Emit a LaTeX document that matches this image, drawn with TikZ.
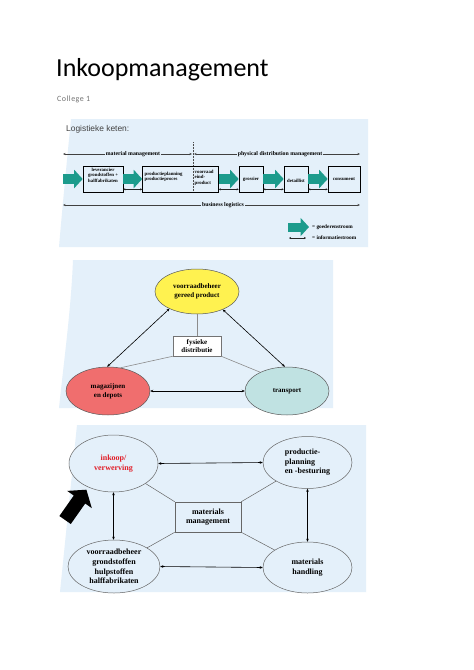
\documentclass[tikz,border=0pt]{standalone}
\usepackage{fontspec}
\setmainfont{Liberation Serif}
\newfontfamily\titlefont{Carlito}
\newfontfamily\collegefont[LetterSpace=6]{Carlito}
\newfontfamily\arialfont{Liberation Sans}
\usetikzlibrary{arrows.meta,calc,shapes.geometric}
\definecolor{bgblue}{RGB}{228,240,250}
\definecolor{tealA}{RGB}{28,155,140}
\definecolor{ylw}{RGB}{255,242,80}
\definecolor{rd}{RGB}{240,110,110}
\definecolor{tl}{RGB}{192,226,226}
\definecolor{redtxt}{RGB}{225,30,40}
\tikzset{
  goods/.style={draw=tealA, line width=10pt, -{Triangle[length=8.5pt,width=18pt]}},
  infoarr/.style={draw=black!85, line width=0.5pt, {Stealth[length=2pt,width=2pt]}-{Stealth[length=2pt,width=2pt]}},
  spanline/.style={draw=black!75, line width=0.5pt, {Stealth[length=2.5pt,width=2pt]}-{Stealth[length=2.5pt,width=2pt]}},
  spanlabel/.style={fill=bgblue, inner sep=1pt, font=\bfseries\fontsize{5.8}{6.5}\selectfont},
  chainbox/.style={draw=black, line width=0.6pt, inner sep=0pt},
  tinytext/.style={inner sep=0pt, font=\bfseries\fontsize{4.8}{5.4}\selectfont},
  legendtext/.style={anchor=west, inner sep=0pt, font=\bfseries\fontsize{5.3}{6}\selectfont},
  ellA/.style={ellipse, draw=black!65, line width=0.5pt, inner sep=0pt, align=center,
     font=\bfseries\fontsize{7}{9}\selectfont},
  ellB/.style={ellipse, draw=black!60, line width=0.5pt, fill=bgblue, inner sep=0pt, align=center,
     font=\bfseries\fontsize{8}{9.6}\selectfont},
  greyline/.style={draw=black!45, line width=0.6pt},
  darkline/.style={draw=black!60, line width=0.5pt},
  dbl/.style={draw=black, line width=0.6pt, {Stealth[length=3pt,width=2.6pt]}-{Stealth[length=3pt,width=2.6pt]}},
}
\begin{document}
\begin{tikzpicture}[x=1pt,y=-1pt]
\useasboundingbox (0,0) rectangle (474,670);
\fill[white] (0,0) rectangle (474,670);

% title
\node[anchor=base west, inner sep=0pt, font=\titlefont\fontsize{26}{30}\selectfont] (title) at (56,76) {Inkoopmanagement};
\node[anchor=base west, inner sep=0pt, text=black!55, font=\collegefont\fontsize{8}{10}\selectfont] (college) at (57,101) {College 1};

% ---------------- panel 1 ----------------
\fill[bgblue] (71,119) -- (368,119) -- (368,247) -- (59,247) .. controls (63,200) and (68,150) .. (71,119) -- cycle;
\node[anchor=base west, inner sep=0pt, text=black!75, font=\arialfont\fontsize{8.4}{10}\selectfont] (ketentitle) at (66,131) {Logistieke keten:};

\coordinate (mmL) at (63,154);
\coordinate (mmR) at (192,154);
\coordinate (pdL) at (194,154);
\coordinate (pdR) at (360,154);
\coordinate (blL) at (63,205);
\coordinate (blR) at (360,205);
\draw[spanline] (mmL) -- (mmR);
\draw[spanline] (pdL) -- (pdR);
\draw[spanline] (blL) -- (blR);
\node[spanlabel] (mmlabel) at (133,154) {material management};
\node[spanlabel] (pdlabel) at (280,154) {physical distribution management};
\node[spanlabel] (bllabel) at (223,205) {business logistics};
\coordinate (dotT) at (193,142);
\coordinate (dotB) at (193,192);
\draw[black!70, line width=0.5pt, densely dotted] (dotT) -- (dotB);

\node[chainbox, minimum width=40, minimum height=26] (b1) at (103,179) {};
\node[chainbox, minimum width=76, minimum height=26] (b2) at (180.5,179) {};
\node[chainbox, minimum width=24, minimum height=26] (b3) at (251,179) {};
\node[chainbox, minimum width=24, minimum height=26] (b4) at (296,179) {};
\node[chainbox, minimum width=32, minimum height=26] (b5) at (344,179) {};

\node[tinytext, align=center, anchor=north] (t1) at (103,168) {leverancier\\grondstoffen +\\halffabrikaten};
\node[tinytext, align=left, anchor=north west] (t2a) at (144.5,172) {productieplanning\\productieproces};
\node[tinytext, align=left, anchor=north west] (t2b) at (194.5,170) {voorraad\\eind-\\product};
\node[tinytext] (t3) at (251,179) {grossier};
\node[tinytext] (t4) at (296,181) {detaillist};
\node[tinytext] (t5) at (344,179) {consument};

\coordinate (gin) at (63,179);
\draw[goods] (gin) -- (b1.west);
\draw[goods] (b1.east) -- (b2.west);
\draw[goods] (b2.east) -- (b3.west);
\draw[goods] (b3.east) -- (b4.west);
\draw[goods] (b4.east) -- (b5.west);
\draw[infoarr] ($(b1.south east)+(0,-3)$) -- ($(b2.south west)+(0,-3)$);
\draw[infoarr] ($(b2.south east)+(0,-3)$) -- ($(b3.south west)+(0,-3)$);
\draw[infoarr] ($(b3.south east)+(0,-3)$) -- ($(b4.south west)+(0,-3)$);
\draw[infoarr] ($(b4.south east)+(0,-3)$) -- ($(b5.south west)+(0,-3)$);

\coordinate (lg1a) at (288,227);
\coordinate (lg1b) at (309,227);
\coordinate (lg2a) at (289,238);
\coordinate (lg2b) at (306,238);
\draw[goods, line width=9pt] (lg1a) -- (lg1b);
\draw[infoarr] (lg2a) -- (lg2b);
\node[legendtext] (lgt1) at (312,227) {= goederenstroom};
\node[legendtext] (lgt2) at (312,238) {= informatiestroom};

% ---------------- panel 2 ----------------
\fill[bgblue] (73,260) -- (333,260) -- (333,408) -- (59,408) .. controls (64,360) and (71,310) .. (73,260) -- cycle;
\node[ellA, fill=ylw, minimum width=84, minimum height=45] (yel) at (197,291.5) {voorraadbeheer\\gereed product};
\node[ellA, fill=rd, minimum width=84, minimum height=48] (red) at (108,391) {magazijnen\\en depots};
\node[ellA, fill=tl, minimum width=84, minimum height=48] (tra) at (287,391) {transport};
\node[draw=black!55, line width=0.5pt, fill=white, minimum width=48, minimum height=20, inner sep=0pt, align=center,
  font=\bfseries\fontsize{7}{8.5}\selectfont] (fys) at (197,346) {fysieke\\distributie};
\draw[greyline] (yel.south) -- (fys.north);
\draw[greyline] (fys.south west) -- (red.62);
\draw[greyline] (fys.south east) -- (tra.145);
\draw[dbl] (yel.212) -- (red.92);
\draw[dbl] (yel.325) -- (tra.95);
\draw[dbl] (red.east) -- (tra.west);

% ---------------- panel 3 ----------------
\fill[bgblue] (77,425) -- (366,425) -- (366,592) -- (60,592) -- cycle;
\node[ellB, minimum width=89, minimum height=57, text=redtxt] (ink) at (113.5,463.5) {inkoop/\\verwerving};
\node[ellB, minimum width=89, minimum height=52, align=left] (prod) at (307.5,462.5) {productie-\\planning\\en -besturing};
\node[ellB, minimum width=92, minimum height=53] (vrd) at (114,566.5) {voorraadbeheer\\grondstoffen\\hulpstoffen\\halffabrikaten};
\node[ellB, minimum width=89, minimum height=51] (mh) at (307.5,567.5) {materials\\handling};
\node[draw=black!60, line width=0.5pt, minimum width=66, minimum height=30, inner sep=0pt, align=center,
  font=\bfseries\fontsize{8}{9.6}\selectfont] (mm) at (208,517) {materials\\management};
\draw[darkline] (mm.north west) -- (ink);
\draw[darkline] (mm.north east) -- (prod);
\draw[darkline] (mm.south west) -- (vrd);
\draw[darkline] (mm.south east) -- (mh);
\draw[dbl] (ink.east) -- (prod.west);
\draw[dbl] (vrd.east) -- (mh.west);
\draw[dbl] (ink.south) -- (ink.south |- vrd.north);
\draw[dbl] (prod.south) -- (prod.south |- mh.north);

% big black arrow
\fill[black] (86.4,489.7) -- (91.8,508.1) -- (85.2,503.5) -- (70.8,524) -- (59.4,516) -- (73.8,495.5) -- (67.2,490.9) -- cycle;
\end{tikzpicture}
\end{document}
